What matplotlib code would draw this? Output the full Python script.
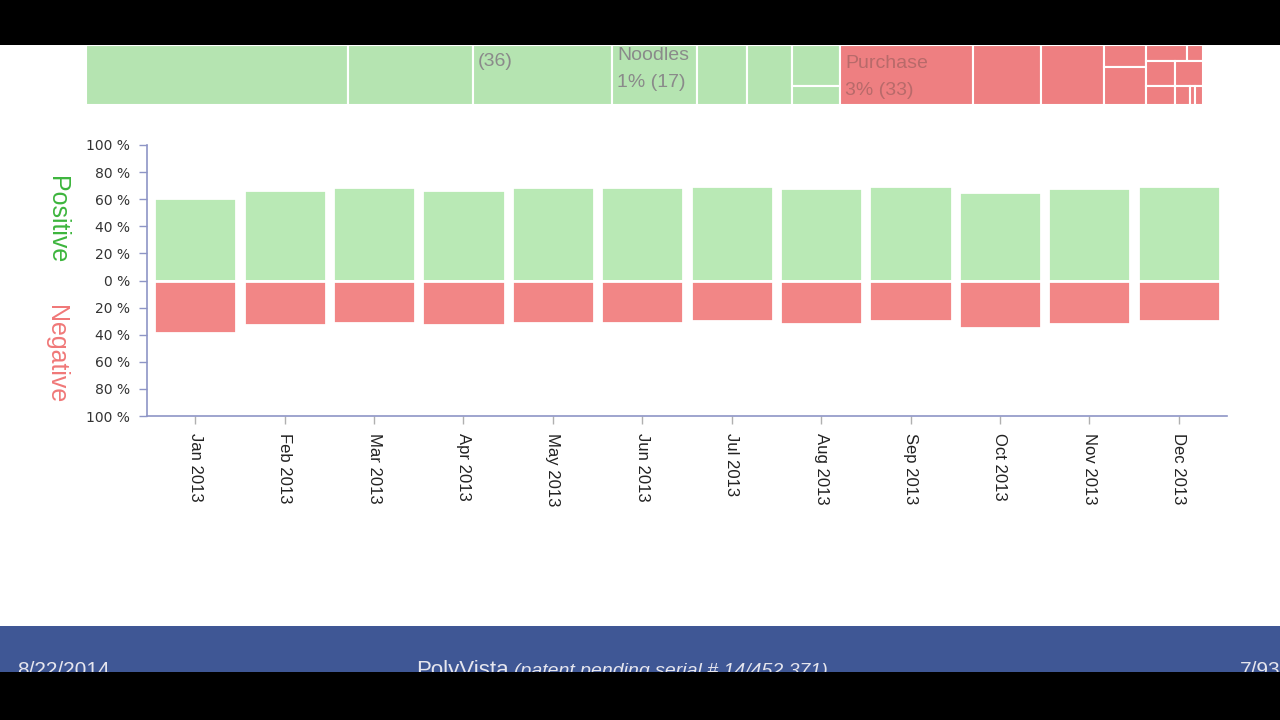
import numpy as np
import matplotlib
matplotlib.use('Agg')
from matplotlib import pyplot as plt
from matplotlib.patches import Rectangle

#---------------------------------DATA----------------------------------------------------------------
months = ['Jan 2013', 'Feb 2013', 'Mar 2013', 'Apr 2013', 'May 2013', 'Jun 2013',
          'Jul 2013', 'Aug 2013', 'Sep 2013', 'Oct 2013', 'Nov 2013', 'Dec 2013']
positive = [61, 67, 69, 67, 69, 69, 70, 68, 70, 65, 68, 70]
negative = [39, 33, 31, 33, 31, 31, 30, 32, 30, 35, 32, 30]
ytick_vals = [-100, -80, -60, -40, -20, 0, 20, 40, 60, 80, 100]

# treemap strip (only its lower part is visible): column sizes, sentiment,
# rows from top as (row share, [cell shares])
tree_sizes = [262, 125, 139, 85, 50, 45, 48, 133, 68, 63, 42, 57]
tree_kind = ['pos'] * 7 + ['neg'] * 5
tree_rows = [
    [(1, [1])], [(1, [1])], [(1, [1])], [(1, [1])], [(1, [1])], [(1, [1])],
    [(41, [1]), (19, [1])],
    [(1, [1])], [(1, [1])], [(1, [1])],
    [(22, [1]), (38, [1])],
    [(16, [41, 16]), (25, [29, 28]), (19, [29, 15, 5, 8])],
]
tree_labels = {2: '(36)', 3: 'Noodles\n1% (17)', 7: 'Purchase\n3% (33)'}

footer_left = '8/22/2014'
footer_mid = 'PolyVista'
footer_mid_italic = '(patent pending serial # 14/452,371)'
footer_right = '7/93'

#---------------------------------STYLE---------------------------------------------------------------
W, H = 1280, 720
green = '#b9e9b5'
red = '#f28686'
tree_green = '#b5e4b1'
tree_red = '#ee7f81'
axis_col = '#8e95c6'
footer_blue = '#3f5795'

fig = plt.figure(figsize=(12.8, 7.2), dpi=100)
fig.patch.set_facecolor('white')


def px_axes(x0, y0, x1, y1):
    return fig.add_axes([x0 / W, 1 - y1 / H, (x1 - x0) / W, (y1 - y0) / H])


#---------------------------------TREEMAP STRIP-------------------------------------------------------
tm = px_axes(86, 45, 1203, 105)
tm.set_xlim(0, sum(tree_sizes))
tm.set_ylim(1, 0)
tm.axis('off')
left = 0
for i, size in enumerate(tree_sizes):
    col = tree_green if tree_kind[i] == 'pos' else tree_red
    rows = tree_rows[i]
    rtot = sum(r[0] for r in rows)
    top = 0
    for rh, cells in rows:
        h = rh / rtot
        ctot = sum(cells)
        cx = left
        for c in cells:
            w = size * c / ctot
            tm.add_patch(Rectangle((cx, top), w, h, facecolor=col,
                                   edgecolor='white', linewidth=1.5))
            cx += w
        top += h
    if i in tree_labels:
        tcol = '#8a8a8a' if tree_kind[i] == 'pos' else '#b86a6a'
        dy = {2: -16, 3: -24, 7: -32}[i]
        tm.annotate(tree_labels[i], xy=(left, 0), xytext=(5, dy),
                    textcoords='offset pixels', ha='left', va='center',
                    fontsize=14, color=tcol, family='Liberation Sans',
                    linespacing=1.75, annotation_clip=False)
    left += size

#---------------------------------SENTIMENT BARS------------------------------------------------------
ax = px_axes(147, 145, 1227, 416)
x = np.arange(len(months))
ax.bar(x, positive, width=0.92, color=green, edgecolor='white', linewidth=2)
ax.bar(x, [-v for v in negative], width=0.92, color=red, edgecolor='white', linewidth=2)
ax.set_xlim(-0.54, 11.54)
ax.set_ylim(-100, 100)

ax.set_yticks(ytick_vals)
ax.set_yticklabels(['%d %%' % abs(v) for v in ytick_vals], fontsize=10,
                   color='#333333', family='DejaVu Sans')
ax.set_xticks(x)
ax.set_xticklabels(months, rotation=-90, fontsize=12, color='#222222',
                   family='Liberation Sans', ha='center', va='top')
ax.tick_params(axis='y', length=6, width=1, color=axis_col, pad=6)
ax.tick_params(axis='x', length=6, width=1, color='#b0b0b0', pad=6)
for s in ['top', 'right']:
    ax.spines[s].set_visible(False)
for s in ['left', 'bottom']:
    ax.spines[s].set_color(axis_col)
    ax.spines[s].set_linewidth(1.2)

fig.text(57 / W, 1 - 220 / H, 'Positive', rotation=-90, color='#3db53d',
         fontsize=18, family='Liberation Sans', ha='center', va='center')
fig.text(56 / W, 1 - 354 / H, 'Negative', rotation=-90, color='#f07878',
         fontsize=18, family='Liberation Sans', ha='center', va='center')

#---------------------------------FOOTER AND SCREEN BARS----------------------------------------------
fig.add_artist(Rectangle((0, 1 - 672 / H), 1, 46 / H, transform=fig.transFigure,
                         facecolor=footer_blue, edgecolor='none', zorder=3))
fig.text(17 / W, 1 - 676 / H, footer_left, color='#e6e6ee', fontsize=15,
         family='Liberation Sans', ha='left', va='baseline', zorder=4)
fig.text(416 / W, 1 - 676 / H, footer_mid, color='#e6e6ee', fontsize=16,
         family='Liberation Sans', ha='left', va='baseline', zorder=4)
fig.text(514 / W, 1 - 676 / H, footer_mid_italic, color='#e6e6ee', fontsize=14,
         family='Liberation Sans', style='italic', ha='left', va='baseline', zorder=4)
fig.text(1240 / W, 1 - 676 / H, footer_right, color='#e6e6ee', fontsize=15,
         family='Liberation Sans', ha='left', va='baseline', zorder=4)

fig.add_artist(Rectangle((0, 1 - 45 / H), 1, 45 / H, transform=fig.transFigure,
                         facecolor='black', edgecolor='none', zorder=10))
fig.add_artist(Rectangle((0, 0), 1, 48 / H, transform=fig.transFigure,
                         facecolor='black', edgecolor='none', zorder=10))

fig.savefig('out.png', dpi=100)
